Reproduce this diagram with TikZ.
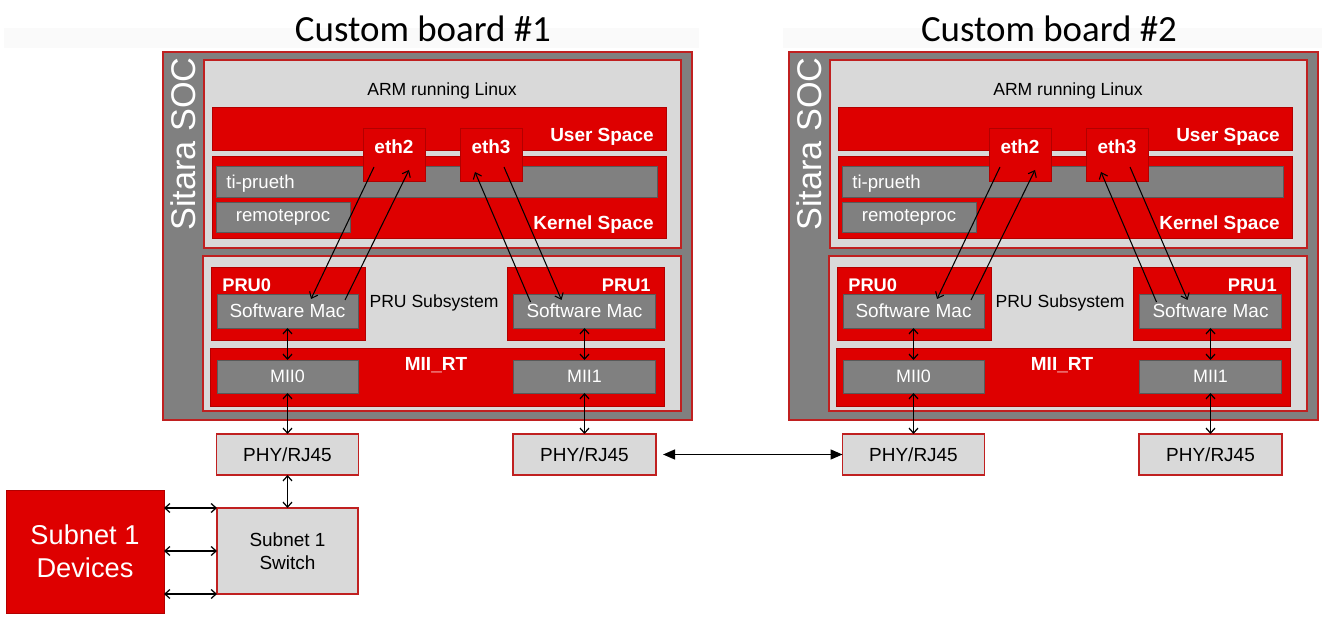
\documentclass[tikz,border=0pt]{standalone}
\usepackage{fontspec}
\setmainfont{Liberation Sans}
\newfontfamily\titlefont{Carlito}
\usetikzlibrary{arrows.meta,calc}

\definecolor{socgray}{RGB}{128,128,128}
\definecolor{tired}{RGB}{222,0,0}
\definecolor{edgered}{RGB}{192,32,32}
\definecolor{panelgray}{RGB}{217,217,217}

\tikzset{
    sz/.style n args={2}{minimum width=#1*0.02cm, minimum height=#2*0.02cm}
}

\begin{document}
\begin{tikzpicture}[
        x=0.02cm, y=-0.02cm,
        socbox/.style={rectangle, draw=edgered, fill=socgray, line width=0.7pt, inner sep=0pt, outer sep=0pt},
        panelbox/.style={rectangle, draw=edgered, fill=panelgray, line width=0.7pt, inner sep=0pt, outer sep=0pt, font=\fontsize{10.8}{13}\selectfont},
        redblock/.style={rectangle, draw=red!70!black, fill=tired, line width=0.5pt, inner sep=0pt, outer sep=0pt},
        graybar/.style={rectangle, draw=black!65, fill=socgray, line width=0.5pt, inner sep=0pt, outer sep=0pt, text=white, font=\fontsize{10.8}{13}\selectfont},
        txtlbl/.style={inner sep=0pt, font=\fontsize{10}{12}\selectfont},
        tagtxt/.style={inner sep=0pt, text=white, font=\bfseries\fontsize{10.8}{13}\selectfont},
        linkarrow/.style={{Straight Barb[length=1mm,width=1.8mm]}-{Straight Barb[length=1mm,width=1.8mm]}, line width=0.7pt},
        flowarrow/.style={-{Straight Barb[length=1.1mm,width=1.8mm]}, line width=0.6pt}
    ]
        \useasboundingbox (0,0) rectangle (1327,617);

        % Faint strips behind the titles
        \fill[black!2] (4,28) rectangle (699,48);
        \fill[black!2] (783,28) rectangle (1322,48);

        \foreach \b/\dx in {1/0, 2/626} {
        \begin{scope}[xshift=\dx*0.02cm]
            % Title
            \node[inner sep=0pt, font=\titlefont\fontsize{21}{25}\selectfont] (title\b) at (423,29) {Custom board \#\b};

            % SoC frame
            \node[socbox, sz={529}{368}] (soc\b) at (427.5,236) {};
            \node[rotate=90, text=white, inner sep=0pt, font=\fontsize{19.5}{23}\selectfont] (socname\b) at (183,144) {Sitara SOC};

            % ARM side
            \node[panelbox, sz={477}{188}] (arm\b) at (442.5,154) {};
            \node[txtlbl] (armtxt\b) at (442,91) {ARM running Linux};
            \node[redblock, sz={454}{43}] (user\b) at (439,128.5) {};
            \node[redblock, sz={454}{82}] (kernel\b) at (439,197) {};
            \node[tagtxt, anchor=east] (usertxt\b) at (654,136.5) {User Space};
            \node[tagtxt, anchor=east] (kerneltxt\b) at (654,224.5) {Kernel Space};
            \node[graybar, sz={441}{31}] (prueth\b) at (436.5,181.5) {};
            \node[inner sep=0pt, anchor=west, text=white, font=\fontsize{10.6}{13}\selectfont] (pruethtxt\b) at (226,184) {ti-prueth};
            \node[graybar, sz={134}{30}, font=\fontsize{10.6}{13}\selectfont] (rproc\b) at (283,217) {remoteproc};
            \node[redblock, sz={62}{53}] (eth2-\b) at (394,154.5) {};
            \node[redblock, sz={62}{53}] (eth3-\b) at (491,154.5) {};
            \node[tagtxt] (eth2txt\b) at (394,147) {eth2};
            \node[tagtxt] (eth3txt\b) at (491,147) {eth3};

            % PRU subsystem
            \node[panelbox, sz={478}{155}] (pruss\b) at (442,333.5) {};
            \node[txtlbl] (prusstxt\b) at (434,302.5) {PRU Subsystem};
            \node[redblock, sz={154}{73}] (pru0-\b) at (288,303.5) {};
            \node[redblock, sz={157}{73}] (pru1-\b) at (585.5,303.5) {};
            \node[tagtxt, anchor=west, font=\bfseries\fontsize{10.4}{13}\selectfont] (pru0txt\b) at (222,285) {PRU0};
            \node[tagtxt, anchor=east, font=\bfseries\fontsize{10.4}{13}\selectfont] (pru1txt\b) at (651,285) {PRU1};
            \node[graybar, sz={141}{34}] (mac0-\b) at (287.5,311) {Software Mac};
            \node[graybar, sz={142}{34}] (mac1-\b) at (584.5,311) {Software Mac};
            \node[redblock, sz={454}{58}] (miirt\b) at (437,377) {};
            \node[tagtxt] (miirttxt\b) at (436,365) {MII\_RT};
            \node[graybar, sz={141}{33}, font=\fontsize{10.2}{13}\selectfont] (mii0-\b) at (287.5,376.5) {MII0};
            \node[graybar, sz={142}{33}, font=\fontsize{10.2}{13}\selectfont] (mii1-\b) at (584.5,376.5) {MII1};

            % PHYs
            \node[panelbox, sz={142}{41}] (phy0-\b) at (287.5,454.5) {PHY/RJ45};
            \node[panelbox, sz={143}{41}] (phy1-\b) at (584.5,454.5) {PHY/RJ45};
        \end{scope}

            % Arrows
            \draw[flowarrow] ($(eth2-\b.south west)+(11,-14)$) -- ($(mac0-\b.north west)+(94,5)$);
            \draw[flowarrow] ($(mac0-\b.north west)+(128,6)$) -- ($(eth2-\b.south west)+(46,-11)$);
            \draw[flowarrow] ($(mac1-\b.north west)+(17,8)$) -- ($(eth3-\b.south west)+(15,-9)$);
            \draw[flowarrow] ($(eth3-\b.south west)+(44,-14)$) -- ($(mac1-\b.north west)+(48,6)$);
            \draw[linkarrow] (mac0-\b.south) -- (mii0-\b.north);
            \draw[linkarrow] (mac1-\b.south) -- (mii1-\b.north);
            \draw[linkarrow] (mii0-\b.south) -- (phy0-\b.north);
            \draw[linkarrow] (mii1-\b.south) -- (phy1-\b.north);
        }

        % Subnet
        \node[redblock, sz={158}{123}, text=white, align=center, font=\fontsize{15.5}{18.7}\selectfont] (devices) at (85,551.5) {Subnet 1\\Devices};
        \node[panelbox, sz={141}{86}, align=center] (switch) at (287.5,551) {Subnet 1\\Switch};
        \draw[linkarrow] (devices.east |- switch.north west) -- (switch.north west);
        \draw[linkarrow] (devices.east |- switch.west) -- (switch.west);
        \draw[linkarrow] (devices.east |- switch.south west) -- (switch.south west);
        \draw[linkarrow] (phy0-1.south) -- (switch.north);

        % Board to board link
        \draw[{Triangle[length=2.4mm,width=2mm]}-{Triangle[length=2.4mm,width=2mm]}, line width=0.8pt, shorten <=4pt] (phy1-1.east) -- (phy0-2.west);
    \end{tikzpicture}
\end{document}
